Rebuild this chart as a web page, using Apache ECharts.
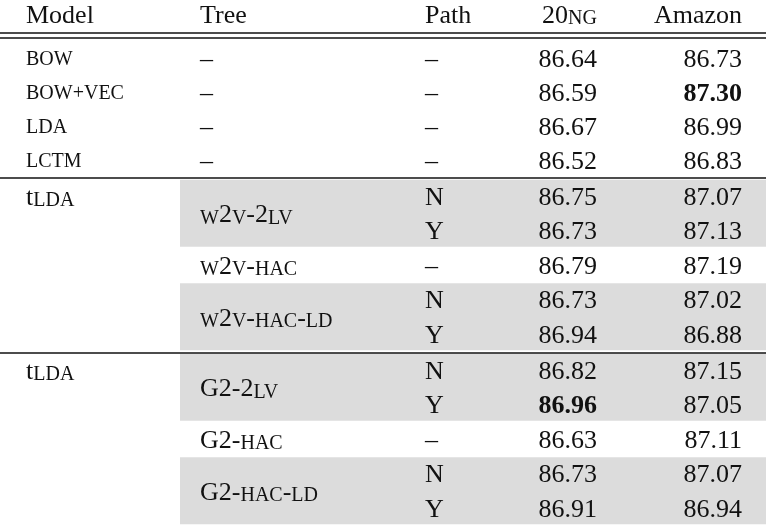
<!DOCTYPE html>
<html><head><meta charset="utf-8">
<script src="https://cdn.jsdelivr.net/npm/echarts@6/dist/echarts.min.js"></script>
<style>html,body{margin:0;padding:0;background:#fff}#c{width:766px;height:530px}</style>
</head><body><div id="c"></div>
<script>
const headers = ['Model','Tree','Path','{n|20}{s|NG}','Amazon'];
const models = ['{s|BOW}','{s|BOW+VEC}','{s|LDA}','{s|LCTM}','{n|t}{s|LDA}','','','','','{n|t}{s|LDA}','','','',''];
const trees = ['–','–','–','–','{s|W}{n|2}{s|V}{n|-2}{s|LV}','','{s|W}{n|2}{s|V}{n|-}{s|HAC}','{s|W}{n|2}{s|V}{n|-}{s|HAC}{n|-}{s|LD}','','{n|G2-2}{s|LV}','','{n|G2-}{s|HAC}','{n|G2-}{s|HAC}{n|-}{s|LD}',''];
const treeSpan = [1,1,1,1,2,0,1,2,0,2,0,1,2,0];
const paths = ['–','–','–','–','N','Y','–','N','Y','N','Y','–','N','Y'];
const ng = ['86.64','86.59','86.67','86.52','86.75','86.73','86.79','86.73','86.94','86.82','86.96','86.63','86.73','86.91'];
const amazon = ['86.73','87.30','86.99','86.83','87.07','87.13','87.19','87.02','86.88','87.15','87.05','87.11','87.07','86.94'];
const boldNg = [10], boldAm = [1];
const shadedGroups = [4,7,9,12];

const rowY = i => i<4 ? 58+i*34 : (i<9 ? 196+(i-4)*34.5 : 370+(i-9)*34.5);
const H = 34.5;
const font = '"Liberation Serif","DejaVu Serif",serif';
const rich = {
  n:{fontSize:26,lineHeight:30,verticalAlign:'bottom',fontFamily:font,fill:'#111'},
  s:{fontSize:20,lineHeight:23,verticalAlign:'bottom',fontFamily:font,fill:'#111'},
  b:{fontSize:26,lineHeight:30,verticalAlign:'bottom',fontFamily:font,fontWeight:'bold',fill:'#111'}};
const els = [];
function txt(x,y,t,align){els.push({type:'text',x,y,style:{text:t.indexOf('{')>=0?t:'{n|'+t+'}',rich,textAlign:align||'left',textVerticalAlign:'middle'}});}
shadedGroups.forEach(i=>{els.push({type:'rect',shape:{x:180,y:rowY(i)-H/2+1,width:586,height:2*H-2},style:{fill:'#dcdcdc'}});});
const cols=[26,200,425,597,742];
headers.forEach((h,k)=>txt(cols[k],14,h,k>=3?'right':'left'));
for(let i=0;i<ng.length;i++){
  const y=rowY(i);
  if(models[i]) txt(26,y,models[i]);
  if(treeSpan[i]>0) txt(200,y+(treeSpan[i]-1)*H/2,trees[i]);
  txt(425,y,paths[i]);
  txt(597,y,boldNg.includes(i)?'{b|'+ng[i]+'}':ng[i],'right');
  txt(742,y,boldAm.includes(i)?'{b|'+amazon[i]+'}':amazon[i],'right');
}
[33,38,178,353].forEach(y=>els.push({type:'line',shape:{x1:0,y1:y,x2:766,y2:y},style:{stroke:'#111',lineWidth:1.5}}));
const chart=echarts.init(document.getElementById('c'));
chart.setOption({animation:false,graphic:{elements:els}});
</script></body></html>
